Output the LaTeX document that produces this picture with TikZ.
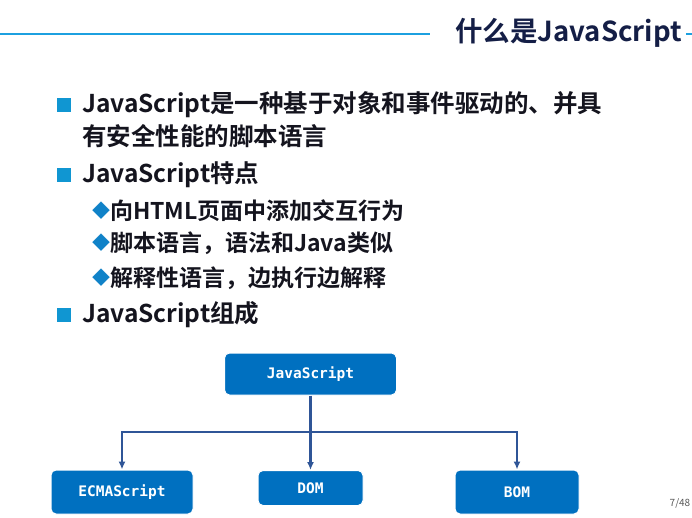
\documentclass[tikz,border=0pt]{standalone}
\usepackage{fontspec}
\setmainfont{Noto Sans CJK SC}[BoldFont={Noto Sans CJK SC Bold}]
\newfontfamily\monob{DejaVu Sans Mono}
\usetikzlibrary{arrows.meta}
\definecolor{boxblue}{RGB}{0,112,192}
\definecolor{connblue}{RGB}{47,85,151}
\definecolor{lineblue}{RGB}{28,160,224}
\definecolor{sqblue}{RGB}{16,150,210}
\definecolor{diablue}{RGB}{16,130,200}
\definecolor{navy}{RGB}{20,30,70}
\definecolor{bodytext}{RGB}{20,20,30}
\definecolor{pggray}{RGB}{90,90,90}
\begin{document}
\begin{tikzpicture}[x=1pt,y=-1pt,
  box/.style={draw=white,line width=1pt,fill=boxblue,rounded corners=5pt,text=white,font=\monob\bfseries\fontsize{14.5}{16}\selectfont,inner sep=0pt},
  conn/.style={draw=connblue,line width=2.5pt,-{Latex[length=8pt,width=7pt]}},
  txt/.style={anchor=west,font=\bfseries\fontsize{24.5}{28}\selectfont,text=bodytext,inner sep=0pt},
  subtxt/.style={txt,font=\bfseries\fontsize{23}{26}\selectfont},
  sq/.style={fill=sqblue,minimum size=14pt,inner sep=0pt},
  dia/.style={anchor=center,font=\fontsize{18}{20}\selectfont,text=diablue,inner sep=0pt}]
\useasboundingbox (0,0) rectangle (692,518);
\fill[white] (0,0) rectangle (692,518);
\draw[lineblue,line width=1.5pt] (0,34) -- (430,34);
\draw[lineblue,line width=1.5pt] (686,34) -- (692,34);
\node[anchor=west,inner sep=0pt,font=\bfseries\fontsize{27.5}{30}\selectfont,text=navy] (title) at (455,33) {什么是JavaScript};
\node[sq] (s1) at (64,105) {};
\node[txt] (t1) at (82,105) {JavaScript是一种基于对象和事件驱动的、并具};
\node[txt] (t1b) at (82,136) {有安全性能的脚本语言};
\node[sq] (s2) at (64,175) {};
\node[txt] (t2) at (82,175) {JavaScript特点};
\node[dia] (d1) at (101,211) {◆};
\node[subtxt] (t3) at (110,211) {向HTML页面中添加交互行为};
\node[dia] (d2) at (101,243) {◆};
\node[subtxt] (t4) at (110,243) {脚本语言，语法和Java类似};
\node[dia] (d3) at (101,278) {◆};
\node[subtxt] (t5) at (110,278) {解释性语言，边执行边解释};
\node[sq] (s3) at (64,315) {};
\node[txt] (t6) at (82,315) {JavaScript组成};
\node[box,minimum width=172pt,minimum height=42pt] (js) at (310.5,374) {JavaScript};
\node[box,minimum width=142pt,minimum height=44pt] (ecma) at (122,492) {ECMAScript};
\node[box,minimum width=105pt,minimum height=35pt] (dom) at (310.5,488) {DOM};
\node[box,minimum width=124pt,minimum height=44pt] (bom) at (517,492) {BOM};
\coordinate (h) at (310.5,432);
\draw[conn] (js.south) -- (dom.north);
\draw[conn] (h) -| (ecma.north);
\draw[conn] (h) -| (bom.north);
\node[anchor=center,font=\fontsize{10}{12}\selectfont,text=pggray] (pg) at (680,503) {7/48};
\end{tikzpicture}
\end{document}
